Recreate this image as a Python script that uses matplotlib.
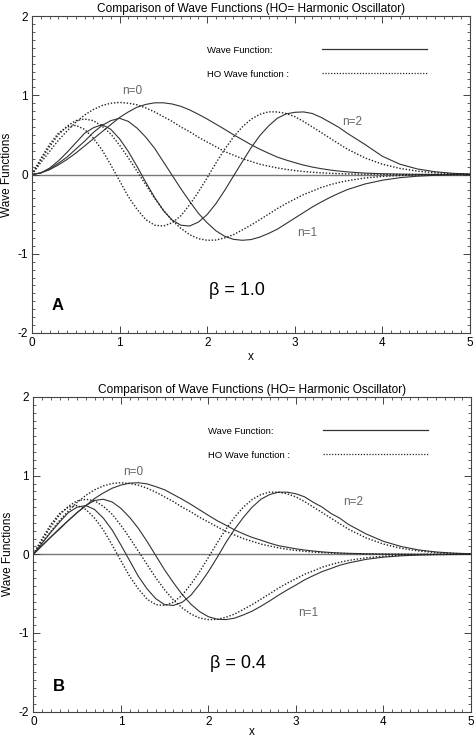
import matplotlib
matplotlib.use("Agg")
import matplotlib.pyplot as plt
from matplotlib.ticker import MultipleLocator

plt.rcParams['font.family'] = ['Liberation Sans', 'DejaVu Sans']
plt.rcParams['axes.unicode_minus'] = False

# x grid: 0.1 steps up to 3.6, then 0.2 steps
x_vals = [0.0, 0.1, 0.2, 0.3, 0.4, 0.5, 0.6, 0.7, 0.8, 0.9, 1.0,
          1.1, 1.2, 1.3, 1.4, 1.5, 1.6, 1.7, 1.8, 1.9, 2.0,
          2.1, 2.2, 2.3, 2.4, 2.5, 2.6, 2.7, 2.8, 2.9, 3.0,
          3.1, 3.2, 3.3, 3.4, 3.5, 3.6,
          3.8, 4.0, 4.2, 4.4, 4.6, 4.8, 5.0]

# HO wave functions (dotted), same in both panels
ho_n0 = [0, .15, .29, .43, .55, .66, .75, .82, .87, .90, .91,
         .90, .88, .84, .79, .73, .67, .60, .54, .47, .41,
         .35, .29, .245, .20, .165, .13, .106, .083, .065, .050,
         .038, .029, .021, .016, .0115, .008,
         .004, .002, .001, 0, 0, 0, 0]
ho_n1 = [0, .18, .35, .50, .61, .68, .70, .68, .61, .51, .37,
         .21, .04, -.13, -.30, -.45, -.58, -.68, -.76, -.81, -.83,
         -.827, -.80, -.759, -.70, -.639, -.57, -.501, -.43, -.367, -.31,
         -.253, -.21, -.164, -.13, -.101, -.078,
         -.044, -.024, -.012, -.006, -.003, -.001, 0]
ho_n2 = [0, .20, .38, .52, .60, .62, .57, .46, .31, .12, -.08,
         -.28, -.44, -.57, -.64, -.65, -.61, -.52, -.38, -.22, -.04,
         .146, .32, .474, .60, .697, .76, .791, .79, .770, .73,
         .670, .60, .531, .46, .389, .32,
         .21, .13, .077, .043, .022, .011, .005]

# Wave functions (solid), beta = 1.0
wf_a_n0 = [0, .02, .06, .12, .19, .27, .36, .45, .54, .63, .72,
           .79, .85, .885, .905, .905, .89, .86, .815, .76, .70,
           .635, .57, .502, .44, .377, .32, .269, .22, .183, .15,
           .119, .094, .074, .057, .044, .033,
           .018, .010, .005, .002, .001, 0, 0]
wf_a_n1 = [0, .02, .07, .14, .22, .32, .42, .53, .62, .68, .71,
           .67, .585, .47, .33, .16, -.01, -.18, -.34, -.49, -.61,
           -.71, -.78, -.818, -.83, -.821, -.79, -.744, -.69, -.62, -.55,
           -.48, -.41, -.348, -.29, -.238, -.19,
           -.12, -.072, -.040, -.021, -.010, -.005, -.002]
wf_a_n2 = [0, .02, .08, .17, .28, .40, .52, .59, .63, .57, .45,
           .29, .10, -.10, -.29, -.455, -.575, -.64, -.65, -.60, -.505,
           -.367, -.20, -.019, .16, .336, .49, .612, .71, .765, .785,
           .79, .77, .721, .66, .597, .52,
           .38, .23, .13, .07, .035, .015, .007]

# Wave functions (solid), beta = 0.4
wf_b_n0 = [0, .11, .22, .33, .43, .53, .62, .71, .78, .84, .88,
           .905, .91, .895, .86, .82, .76, .70, .635, .565, .495,
           .428, .37, .31, .26, .215, .18, .142, .11, .09, .070,
           .054, .042, .031, .023, .017, .013,
           .007, .003, .001, 0, 0, 0, 0]
wf_b_n1 = [0, .11, .22, .32, .43, .53, .62, .685, .70, .666, .585,
           .47, .33, .163, -.018, -.198, -.36, -.51, -.634, -.729, -.793,
           -.825, -.83, -.811, -.77, -.722, -.66, -.592, -.52, -.453, -.39,
           -.324, -.27, -.219, -.18, -.139, -.11,
           -.064, -.036, -.019, -.009, -.004, -.002, -.001]
wf_b_n2 = [0, .14, .28, .41, .53, .60, .62, .57, .46, .31, .12,
           -.08, -.28, -.44, -.565, -.64, -.65, -.61, -.52, -.38, -.22,
           -.04, .15, .32, .47, .60, .70, .76, .79, .79, .77,
           .73, .66, .60, .52, .46, .38,
           .26, .165, .10, .056, .03, .015, .007]

panels = [
    {"rect": [0.0675, 0.5494, 0.9241, 0.4289], "solid": [wf_a_n0, wf_a_n1, wf_a_n2],
     "beta": "β = 1.0", "tag": "A", "beta_y": -1.46, "tag_y": -1.65, "xpad": 1},
    {"rect": [0.0703, 0.0370, 0.9234, 0.4258], "solid": [wf_b_n0, wf_b_n1, wf_b_n2],
     "beta": "β = 0.4", "tag": "B", "beta_y": -1.39, "tag_y": -1.68, "xpad": -1},
]

fig = plt.figure(figsize=(4.74, 7.39), dpi=100)

for p in panels:
    ax = fig.add_axes(p["rect"])
    ax.axhline(0, color='#777777', lw=1.0, zorder=1)
    for ys in p["solid"]:
        ax.plot(x_vals, ys, color='#333333', lw=0.8)
    for ys in [ho_n0, ho_n1, ho_n2]:
        ax.plot(x_vals, ys, color='#222222', lw=1.0, linestyle=(0, (1, 1.3)))

    ax.set_xlim(0, 5)
    ax.set_ylim(-2, 2)
    ax.xaxis.set_major_locator(MultipleLocator(1))
    ax.xaxis.set_minor_locator(MultipleLocator(0.1))
    ax.yaxis.set_major_locator(MultipleLocator(1))
    ax.yaxis.set_minor_locator(MultipleLocator(0.1))
    ax.tick_params(which='both', direction='in', top=True, right=True,
                   labelsize=8.5, color='#444444', pad=3)
    ax.tick_params(which='major', length=5, width=0.7)
    ax.tick_params(which='minor', length=2.5, width=0.6)
    for s in ax.spines.values():
        s.set_linewidth(0.8)
        s.set_color('#444444')

    ax.set_title("Comparison of Wave Functions (HO= Harmonic Oscillator)",
                 fontsize=8.6, pad=3)
    ax.set_xlabel("x", fontsize=8.5, labelpad=p["xpad"])
    ax.set_ylabel("Wave Functions", fontsize=8.5, labelpad=3)

    # hand-drawn legend, as in the original figure
    ax.text(2.0, 1.56, "Wave Function:", fontsize=6.8, va='center')
    ax.plot([3.31, 4.51], [1.58, 1.58], color='#333333', lw=0.9)
    ax.text(2.0, 1.26, "HO Wave function :", fontsize=6.8, va='center')
    ax.plot([3.31, 4.51], [1.28, 1.28], color='#222222', lw=0.9,
            linestyle=(0, (1, 1.3)))

    ax.text(1.14, 1.05, "n=0", fontsize=8.5, color='#666666', ha='center', va='center')
    ax.text(3.65, 0.66, "n=2", fontsize=8.5, color='#666666', ha='center', va='center')
    ax.text(3.14, -0.74, "n=1", fontsize=8.5, color='#666666', ha='center', va='center')

    ax.text(2.34, p["beta_y"], p["beta"], fontsize=13, ha='center', va='center')
    ax.text(0.29, p["tag_y"], p["tag"], fontsize=12, fontweight='bold',
            ha='center', va='center')

fig.savefig("out.png", dpi=100)
